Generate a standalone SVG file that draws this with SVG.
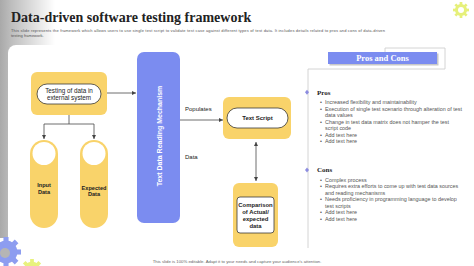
<svg xmlns="http://www.w3.org/2000/svg" xmlns:xlink="http://www.w3.org/1999/xlink" width="474" height="266" viewBox="0 0 474 266">
<style>
.yb{fill:#F9D36A}
.pill{fill:#fff;stroke:#3a3a3a;stroke-width:0.8}
.lbl{font-family:"Liberation Sans",Arial,sans-serif;fill:#222;text-anchor:middle}
.b{font-weight:bold}
.con{fill:none;stroke:#4a4a4a;stroke-width:0.8}
.it{font-family:"Liberation Sans",Arial,sans-serif;font-size:5.4px;fill:#555}
.hd{font-family:"Liberation Serif","Times New Roman",serif;font-weight:bold;fill:#222}
</style>
<defs>
<linearGradient id="lg" x1="0" y1="0" x2="1" y2="0">
<stop offset="0" stop-color="#a9a9a9"/>
<stop offset="0.2" stop-color="#bdbdbd"/>
<stop offset="1" stop-color="#ffffff"/>
</linearGradient>
<marker id="arr" viewBox="0 0 6 6" refX="6" refY="3" markerWidth="4" markerHeight="4" orient="auto-start-reverse" markerUnits="userSpaceOnUse">
<path d="M0,0 L6,3 L0,6 z" fill="#444"/>
</marker>
<g id="gear">
<circle r="0.76"/>
<rect x="-0.17" y="-1" width="0.34" height="2"/>
<rect x="-0.17" y="-1" width="0.34" height="2" transform="rotate(45)"/>
<rect x="-0.17" y="-1" width="0.34" height="2" transform="rotate(90)"/>
<rect x="-0.17" y="-1" width="0.34" height="2" transform="rotate(135)"/>
</g>
</defs>
<rect width="474" height="266" fill="#fff"/>
<rect x="0" y="0" width="55" height="238" fill="url(#lg)"/>
<rect x="8" y="45" width="300" height="208" rx="8" fill="#fff"/>

<!-- gears -->
<use href="#gear" transform="translate(461,10) scale(8)" fill="#E6F07A"/>
<circle cx="461" cy="10" r="3" fill="#fff"/>
<use href="#gear" transform="translate(6,252) scale(15)" fill="#8D9DF0"/>
<circle cx="5" cy="253" r="5" fill="#b5b5b5"/>
<use href="#gear" transform="translate(32,270) scale(11)" fill="#E8F27E"/>

<!-- title -->
<text x="11" y="22" class="hd" font-size="14">Data-driven software testing framework</text>
<text x="11" y="31.5" font-family="Liberation Sans,Arial,sans-serif" font-size="4" fill="#555" textLength="374">This slide represents the framework which allows users to use single test script to validate test case against different types of test data. It includes details related to pros and cons of data-driven</text>
<text x="11" y="36.5" font-family="Liberation Sans,Arial,sans-serif" font-size="4" fill="#555">testing framework.</text>

<!-- connectors -->
<g id="connectors">
<path class="con" d="M107,93 H136" marker-end="url(#arr)"/>
<path class="con" d="M69,115 V124 M44,124 H94"/>
<path class="con" d="M44,124 V139" marker-end="url(#arr)"/>
<path class="con" d="M94,124 V139" marker-end="url(#arr)"/>
<path class="con" d="M180,120 H223" marker-end="url(#arr)"/>
<path class="con" d="M256,142 V181" marker-start="url(#arr)" marker-end="url(#arr)"/>
<text x="185" y="111" class="lbl" font-size="6" style="text-anchor:start">Populates</text>
<text x="185" y="159" class="lbl" font-size="6" style="text-anchor:start">Data</text>
</g>

<g id="node-external">
<rect class="yb" x="31" y="72" width="76" height="43" rx="6"/>
<rect class="pill" x="37" y="84" width="64" height="20" rx="10"/>
<text class="lbl" x="69" y="92.5" font-size="6.3">Testing of data in</text>
<text class="lbl" x="69" y="99.5" font-size="6.3">external system</text>
</g>

<g id="node-input">
<rect class="yb" x="30" y="140" width="28" height="88" rx="14"/>
<circle cx="44" cy="153.5" r="11.5" fill="#fff"/>
<text class="lbl b" x="44" y="187" font-size="5.6">Input</text>
<text class="lbl b" x="44" y="193.5" font-size="5.6">Data</text>
</g>

<g id="node-expected">
<rect class="yb" x="80" y="140" width="28" height="88" rx="14"/>
<circle cx="94" cy="153.5" r="11.5" fill="#fff"/>
<text class="lbl b" x="94" y="189.5" font-size="5.6">Expected</text>
<text class="lbl b" x="94" y="196" font-size="5.6">Data</text>
</g>

<g id="node-reading">
<rect x="137" y="52" width="43" height="171" rx="7" fill="#7B8CF0"/>
<text class="b" transform="translate(161.5,136) rotate(-90)" x="0" y="0" font-family="Liberation Sans,Arial,sans-serif" font-size="7" fill="#fff" text-anchor="middle">Text Data Reading Mechanism</text>
</g>

<g id="node-script">
<rect class="yb" x="223" y="97" width="68" height="42" rx="6"/>
<rect class="pill" x="227" y="108" width="61" height="20" rx="10"/>
<text class="lbl b" x="257.5" y="120" font-size="6">Text Script</text>
</g>

<g id="node-compare">
<rect class="yb" x="233" y="183" width="45" height="64" rx="6"/>
<rect class="pill" x="237" y="197" width="37" height="36" rx="3"/>
<text class="lbl b" x="255.5" y="206.5" font-size="5.9">Comparison</text>
<text class="lbl b" x="255.5" y="213.5" font-size="5.9">of Actual/</text>
<text class="lbl b" x="255.5" y="220.5" font-size="5.9">expected</text>
<text class="lbl b" x="255.5" y="227.5" font-size="5.9">data</text>
</g>

<g id="pros-cons">
<path d="M308,248 V69 H445 V48 H385 V52" fill="none" stroke="#cfcfcf" stroke-width="0.9"/>
<rect x="329.5" y="53.5" width="109" height="12" fill="#c8c8c8"/>
<rect x="328" y="52" width="109" height="12" fill="#7B8CF0"/>
<text x="382.5" y="61.3" class="hd" font-size="8.5" fill="#fff" text-anchor="middle" style="fill:#fff">Pros and Cons</text>

<path d="M307,89.8 L309,92.3 L307,94.8 L305,92.3 z" fill="#8C8CE0"/>
<text x="317" y="94.6" class="hd" font-size="7">Pros</text>
<g class="it">
<text x="320" y="104.2">•</text><text x="325" y="104.2">Increased flexibility  and maintainability</text>
<text x="320" y="110.8">•</text><text x="325" y="110.8">Execution of single test scenario through alteration of test</text>
<text x="325" y="117">data values</text>
<text x="320" y="123.5">•</text><text x="325" y="123.5">Change in test data matrix does not hamper the test</text>
<text x="325" y="130">script code</text>
<text x="320" y="136.6">•</text><text x="325" y="136.6">Add text here</text>
<text x="320" y="143.3">•</text><text x="325" y="143.3">Add text here</text>
</g>

<path d="M307,167.5 L309,170 L307,172.5 L305,170 z" fill="#8C8CE0"/>
<text x="317" y="172.3" class="hd" font-size="7">Cons</text>
<g class="it">
<text x="320" y="181.5">•</text><text x="325" y="181.5">Complex process</text>
<text x="320" y="188">•</text><text x="325" y="188">Requires extra efforts to come up with test data sources</text>
<text x="325" y="194.5">and reading mechanisms</text>
<text x="320" y="201">•</text><text x="325" y="201">Needs proficiency in programming language to develop</text>
<text x="325" y="207.5">test scripts</text>
<text x="320" y="214">•</text><text x="325" y="214">Add text here</text>
<text x="320" y="220.5">•</text><text x="325" y="220.5">Add text here</text>
</g>
</g>

<text x="237" y="262.5" font-family="Liberation Sans,Arial,sans-serif" font-size="4.3" fill="#666" text-anchor="middle">This slide is 100% editable. Adapt it to your needs and capture your audience's attention.</text>
</svg>
